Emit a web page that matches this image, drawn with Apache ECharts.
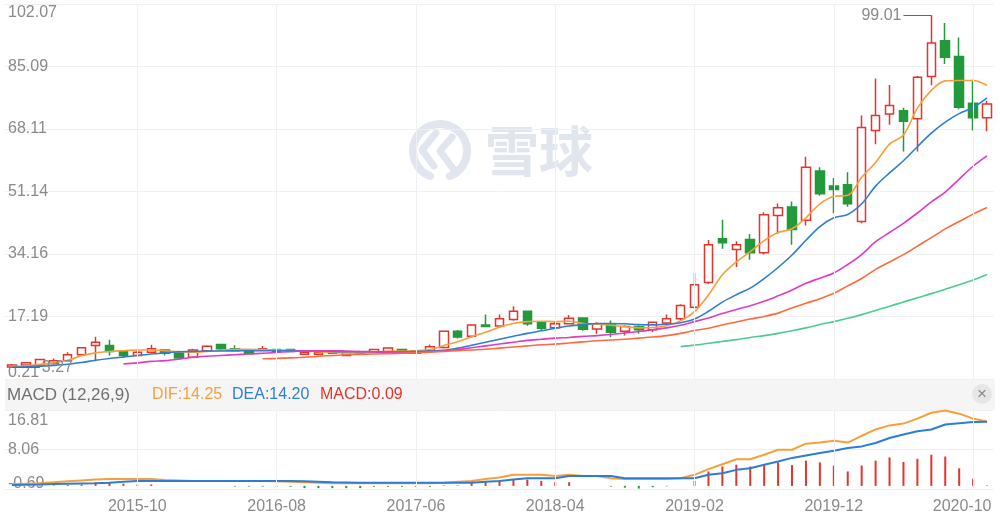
<!DOCTYPE html>
<html>
<head>
<meta charset="utf-8">
<script src="https://cdn.jsdelivr.net/npm/echarts@6/dist/echarts.min.js"></script>
<style>html,body{margin:0;padding:0;background:#fff;}#c{width:1000px;height:525px;}</style>
</head>
<body>
<div id="c"></div>
<script>
// ---- categories (monthly) ----
const months = [];
for (let y = 2015; y <= 2020; y++) for (let m = 1; m <= 12; m++) {
  if (y === 2020 && m > 11) break;
  months.push(y + '-' + (m < 10 ? '0' + m : '' + m));
}
// ---- candles: [open, close, low, high] ----
const candles = [
[3.5,4.0,3.27,4.3],[4.0,4.6,3.7,4.8],[4.0,5.5,3.8,5.7],[4.4,5.2,4.1,5.8],[5.2,6.8,5.0,7.5],
[6.8,8.7,6.6,8.9],[9.3,10.2,5.0,11.7],[9.3,7.7,6.6,10.9],[7.7,6.6,5.9,7.9],[6.6,7.5,6.3,8.4],
[7.5,8.4,7.2,9.5],[8.1,7.2,6.6,8.3],[7.3,5.9,5.7,7.9],[6.1,8.1,6.0,8.4],[7.9,9.1,7.7,9.4],
[9.6,8.4,8.1,9.8],[8.4,7.9,7.7,9.4],[7.8,7.1,6.9,8.0],[8.0,8.4,7.9,9.2],[8.2,7.7,7.5,8.3],
[8.2,7.7,7.5,8.3],[6.9,7.5,6.7,7.7],[6.9,7.5,6.8,7.7],[7.2,7.4,7.0,7.6],[6.6,7.4,6.5,7.6],
[7.2,7.6,7.0,7.9],[7.5,8.2,7.3,8.4],[7.7,8.6,7.5,8.8],[8.2,7.3,7.0,8.4],[7.2,7.9,7.0,8.1],
[7.9,9.0,7.7,9.6],[8.8,13.2,8.5,13.4],[13.2,11.6,11.2,13.5],[11.8,14.9,11.5,15.1],[14.9,14.5,14.3,17.7],
[14.6,16.6,14.3,17.7],[16.4,18.6,16.0,20.0],[18.6,15.2,14.7,18.8],[15.5,14.0,13.4,15.8],[14.1,15.2,13.9,15.9],
[15.2,16.7,15.0,17.6],[16.8,13.7,13.3,17.0],[13.8,15.2,12.5,15.6],[14.9,12.9,11.6,16.1],[13.2,14.5,12.0,14.8],
[14.5,13.6,12.5,14.8],[13.6,15.6,13.0,15.8],[15.4,16.6,15.0,17.7],[16.6,20.2,16.2,20.5],[19.7,25.8,19.3,29.1],
[26.4,36.7,26.0,38.0],[38.3,37.2,35.6,43.5],[35.4,36.7,30.6,37.6],[38.1,34.5,32.6,39.6],[34.5,44.8,34.0,45.5],
[44.6,46.7,39.6,47.9],[46.9,40.8,36.7,48.4],[43.3,57.7,41.9,60.6],[56.7,50.5,50.0,57.7],[52.6,51.7,45.2,54.8],
[53.0,47.8,47.0,56.4],[43.0,68.5,42.5,71.8],[67.7,71.8,64.0,81.8],[72.2,74.5,69.3,80.1],[73.1,70.2,62.0,73.9],
[70.9,82.2,62.0,82.5],[82.4,91.5,80.0,99.01],[92.1,87.6,85.8,96.9],[87.8,74.0,73.5,93.0],[75.1,71.2,67.7,81.5],
[71.2,74.9,67.5,75.8]
];
// ---- moving averages ----
const ma5 = [3.6,3.8,4.2,4.6,5.3,6.5,7.3,7.7,7.9,8.1,8.1,7.9,7.6,7.5,7.7,8.0,8.3,8.3,8.2,8.1,
8.0,7.8,7.6,7.4,7.3,7.3,7.4,7.7,7.8,7.9,8.2,9.3,10.3,11.7,12.9,14.3,15.3,15.8,15.9,15.8,
15.9,15.3,15.1,14.8,14.4,14.1,14.2,14.7,16.0,18.5,23.0,28.5,32.0,34.8,37.8,40.0,41.0,44.0,47.8,49.8,
50.1,55.0,59.0,64.0,66.5,73.8,78.6,81.2,81.3,81.3,80.0];
const ma10 = [3.4,3.5,3.7,3.9,4.2,4.7,5.3,5.8,6.2,6.6,7.0,7.3,7.6,7.7,7.8,7.8,7.9,7.9,7.9,7.9,
7.9,7.9,7.8,7.7,7.6,7.6,7.6,7.6,7.6,7.7,7.8,8.0,8.6,9.4,10.2,11.0,11.8,12.6,13.3,14.0,
14.6,15.0,15.3,15.3,15.2,15.0,14.9,15.1,15.5,16.5,18.6,21.1,23.1,24.9,27.5,30.5,33.9,37.9,41.6,44.0,
44.9,47.8,52.6,56.2,59.5,63.3,67.0,70.0,72.3,74.0,76.6];
const ma20 = [null,null,null,null,null,null,null,null,4.3,4.6,5.0,5.2,5.6,6.1,6.4,6.6,6.8,7.0,7.2,7.4,
7.7,7.8,7.9,7.9,7.8,7.7,7.6,7.5,7.5,7.5,7.6,7.8,8.2,8.7,9.2,9.7,10.2,10.7,11.0,11.3,
11.5,11.8,12.0,12.3,12.7,13.1,13.6,14.1,14.8,15.8,16.8,18.0,19.1,20.1,21.3,22.8,24.4,26.2,27.6,29.0,
31.3,34.0,37.5,40.0,42.5,45.3,48.3,51.0,54.5,58.0,60.8];
const ma30 = [null,null,null,null,null,null,null,null,null,null,null,null,null,null,null,null,null,null,5.7,5.8,
5.95,6.1,6.4,6.6,6.8,6.9,7.0,7.1,7.2,7.3,7.5,7.7,7.9,8.1,8.3,8.6,8.9,9.2,9.5,9.7,
10.0,10.3,10.6,10.8,11.0,11.3,11.6,12.0,12.6,13.4,14.0,14.9,15.7,16.5,17.2,18.1,19.5,20.8,22.0,23.5,
25.5,27.5,30.0,32.0,34.0,36.3,38.6,41.0,43.0,45.0,46.8];
const ma60 = [null,null,null,null,null,null,null,null,null,null,null,null,null,null,null,null,null,null,null,null,
null,null,null,null,null,null,null,null,null,null,null,null,null,null,null,null,null,null,null,null,
null,null,null,null,null,null,null,null,9.0,9.4,9.9,10.4,10.9,11.5,12.0,12.6,13.3,14.1,15.0,15.8,
16.7,17.7,18.8,20.0,21.1,22.3,23.4,24.6,25.8,27.1,28.6];
// ---- MACD (12,26,9) ----
const dif = [0.4,0.5,0.6,0.8,1.0,1.2,1.4,1.5,1.5,1.5,1.5,1.3,1.2,1.1,1.1,1.1,1.1,1.1,1.1,1.0,
0.9,0.8,0.7,0.6,0.6,0.6,0.6,0.6,0.6,0.6,0.6,0.7,0.9,1.1,1.5,1.85,2.45,2.45,2.45,2.2,
2.45,2.2,2.2,1.7,1.5,1.5,1.5,1.5,1.7,2.45,3.7,4.8,5.9,5.9,6.9,8.0,8.0,9.35,9.6,10.0,
9.6,11.1,12.5,13.4,13.8,14.9,16.2,16.7,16.0,14.9,14.25];
const dea = [0.2,0.25,0.3,0.4,0.5,0.55,0.6,0.7,0.9,1.1,1.1,1.1,1.1,1.1,1.1,1.1,1.1,1.1,1.1,1.1,
1.1,1.0,0.9,0.8,0.75,0.7,0.7,0.7,0.7,0.7,0.7,0.7,0.7,0.7,0.9,1.1,1.4,1.7,1.7,1.7,
2.2,2.2,2.2,2.2,1.7,1.7,1.7,1.7,1.7,1.7,2.45,2.8,3.55,3.9,4.7,5.4,6.2,6.75,7.3,7.8,
8.4,8.75,9.5,10.6,11.4,12.1,12.5,13.6,13.9,14.15,14.20];
const macd = [0,0,0.05,0.1,0.2,0.3,0.8,0.7,0.5,0.3,0.3,0,0,0,0,0,-0.15,-0.15,-0.15,-0.15,
-0.2,-0.5,-0.5,-0.5,-0.5,-0.5,-0.2,-0.2,-0.2,-0.2,-0.2,0.1,0.1,1.1,1.1,1.2,1.5,1.4,1.1,0.8,
0.8,0,0,-0.15,-0.4,-0.6,-0.3,-0.1,0,1.1,3.2,4.3,4.7,4.3,4.8,5.2,4.6,5.6,5.2,4.5,
3.2,4.5,5.6,6.3,5.3,6.0,6.9,6.5,3.9,1.6,0.09];
// ---- tick labels ----
const priceTicks = ['0.21','17.19','34.16','51.14','68.11','85.09','102.07'];
const macdTicks = ['-0.69','8.06','16.81'];
const gridMonths = ['2015-10','2016-08','2017-06','2018-04','2019-02','2019-12','2020-10'];

const PMIN = 0.21, PMAX = 102.07, PSTEP = (PMAX - PMIN) / 6;
const MMIN = -0.69, MMAX = 16.81, MSTEP = (MMAX - MMIN) / 2;

const FONT = 'Liberation Sans, Arial, sans-serif';
const RED = '#e4352d', GREEN = '#22993b';
const LABEL = '#8a8a8a';

// max / min markers
let hiIdx = 0, loIdx = 0;
candles.forEach((c, i) => { if (c[3] > candles[hiIdx][3]) hiIdx = i; if (c[2] < candles[loIdx][2]) loIdx = i; });
const hiVal = candles[hiIdx][3], loVal = candles[loIdx][2];

const chart = echarts.init(document.getElementById('c'), null, {renderer: 'canvas'});

function gridLines(xi, yi) {
  return {
    type: 'line', xAxisIndex: xi, yAxisIndex: yi, data: months.map(() => null), z: 1, silent: true,
    markLine: {
      silent: true, animation: false, symbol: ['none', 'none'],
      label: {show: false},
      lineStyle: {color: '#f0f0f0', width: 1, type: 'solid'},
      data: gridMonths.map(m => ({xAxis: m}))
    }
  };
}
function maLine(data, color) {
  return {type: 'line', xAxisIndex: 0, yAxisIndex: 0, data: data, smooth: 0.35, showSymbol: false,
    symbol: 'none', lineStyle: {color: color, width: 1.6}, itemStyle: {color: color}, z: 3};
}
function yLabel(ticks, min, step, lhMin, lhMax) {
  const base = {color: LABEL, fontSize: 16, fontFamily: FONT};
  return {
    inside: true, margin: 3, color: LABEL, fontSize: 16, fontFamily: FONT,
    verticalAlignMinLabel: 'bottom', verticalAlignMaxLabel: 'top',
    formatter: (v) => {
      const i = Math.round((v - min) / step);
      const t = ticks[i] || '';
      if (i === 0) return '{mn|' + t + '}';
      if (i === ticks.length - 1) return '{mx|' + t + '}';
      return t;
    },
    rich: {mn: Object.assign({lineHeight: lhMin}, base), mx: Object.assign({lineHeight: lhMax}, base)}
  };
}

const option = {
  animation: false,
  backgroundColor: '#fff',
  textStyle: {fontFamily: FONT},
  grid: [
    {left: 5, right: 6, top: 4, height: 375},
    {left: 5, right: 6, top: 410, height: 79}
  ],
  xAxis: [
    {type: 'category', gridIndex: 0, data: months, boundaryGap: true,
      axisLine: {show: false}, axisTick: {show: false}, axisLabel: {show: false}, splitLine: {show: false}},
    {type: 'category', gridIndex: 1, data: months, boundaryGap: true,
      axisLine: {show: false}, axisTick: {show: false}, splitLine: {show: false},
      axisLabel: {
        color: LABEL, fontSize: 16, fontFamily: FONT, margin: 10,
        interval: (idx) => idx % 10 === 9,
        formatter: (v, idx) => idx === months.length - 2 ? '{e|' + v + '}' : v,
        rich: {e: {color: LABEL, fontSize: 16, fontFamily: FONT, padding: [0, 22, 0, 0]}}
      }}
  ],
  yAxis: [
    {type: 'value', gridIndex: 0, min: PMIN, max: PMAX, interval: PSTEP, scale: true,
      axisLine: {show: false}, axisTick: {show: false},
      splitLine: {lineStyle: {color: '#f0f0f0', width: 1}},
      axisLabel: yLabel(priceTicks, PMIN, PSTEP, 13, 17)},
    {type: 'value', gridIndex: 1, min: MMIN, max: MMAX, interval: MSTEP, scale: true,
      axisLine: {show: false}, axisTick: {show: false},
      splitLine: {lineStyle: {color: '#f0f0f0', width: 1}},
      axisLabel: yLabel(macdTicks, MMIN, MSTEP, 10, 21)}
  ],
  graphic: [
    // watermark
    {type: 'group', z: -1, silent: true, children: [
      {type: 'arc', shape: {cx: 440, cy: 151, r: 27, startAngle: Math.PI * 0.62, endAngle: Math.PI * 2.38},
        style: {stroke: '#e0e5ee', lineWidth: 8, fill: null, lineCap: 'round'}},
      {type: 'polyline', shape: {points: [[436, 133], [422, 150], [434, 166]]},
        style: {stroke: '#e0e5ee', lineWidth: 7, fill: null, lineCap: 'round', lineJoin: 'round'}},
      {type: 'polyline', shape: {points: [[452, 137], [440, 151], [454, 170]]},
        style: {stroke: '#e0e5ee', lineWidth: 7, fill: null, lineCap: 'round', lineJoin: 'round'}},
      {type: 'text', x: 539, y: 151, style: {text: '雪球', fill: '#e0e5ee', fontSize: 54, fontWeight: 'bold',
        fontFamily: 'Noto Sans CJK SC', align: 'center', verticalAlign: 'middle'}}
    ]},
    // MACD legend bar
    {type: 'rect', z: 0, silent: true, shape: {x: 5, y: 380, width: 990, height: 30}, style: {fill: '#f5f5f5'}},
    {type: 'text', z: 5, x: 7, y: 395, style: {text: 'MACD (12,26,9)', fill: '#707070', fontSize: 17, fontFamily: FONT, verticalAlign: 'middle'}},
    {type: 'text', z: 5, x: 152, y: 395, style: {text: 'DIF:' + dif[dif.length - 1].toFixed(2), fill: '#f7a03c', fontSize: 16, fontFamily: FONT, verticalAlign: 'middle'}},
    {type: 'text', z: 5, x: 232, y: 395, style: {text: 'DEA:' + dea[dea.length - 1].toFixed(2), fill: '#2f7fd4', fontSize: 16, fontFamily: FONT, verticalAlign: 'middle'}},
    {type: 'text', z: 5, x: 320, y: 395, style: {text: 'MACD:' + macd[macd.length - 1].toFixed(2), fill: '#e4352d', fontSize: 16, fontFamily: FONT, verticalAlign: 'middle'}},
    {type: 'circle', z: 5, shape: {cx: 982, cy: 394, r: 10}, style: {fill: '#e6e6e6'}},
    {type: 'text', z: 6, x: 982, y: 394, style: {text: '×', fill: '#888', fontSize: 17, fontFamily: FONT, align: 'center', verticalAlign: 'middle'}}
  ],
  series: [
    gridLines(0, 0),
    gridLines(1, 1),
    {
      type: 'candlestick', xAxisIndex: 0, yAxisIndex: 0, data: candles, barWidth: 9, z: 2,
      itemStyle: {color: '#ffffff', color0: GREEN, borderColor: RED, borderColor0: GREEN, borderWidth: 1.5},
      markLine: {
        silent: true, animation: false, symbol: ['none', 'none'],
        lineStyle: {color: '#666', width: 1, type: 'solid'},
        label: {color: LABEL, fontSize: 16, fontFamily: FONT},
        data: [
          [{coord: [months[hiIdx - 2], hiVal], label: {position: 'start', distance: 2, formatter: hiVal.toFixed(2)}},
           {coord: [months[hiIdx], hiVal]}],
          [{coord: [months[loIdx], loVal], label: {position: 'end', distance: 2, formatter: loVal.toFixed(2)}},
           {coord: [months[loIdx + 2], loVal]}]
        ]
      }
    },
    maLine(ma5, '#f89f3a'),
    maLine(ma10, '#2b7dd6'),
    maLine(ma20, '#e03cc2'),
    maLine(ma30, '#ff6a3c'),
    maLine(ma60, '#4fcb8e'),
    {type: 'bar', xAxisIndex: 1, yAxisIndex: 1, barWidth: 2, z: 2,
      data: macd.map(v => ({value: v, itemStyle: {color: v >= 0 ? RED : GREEN}}))},
    {type: 'line', xAxisIndex: 1, yAxisIndex: 1, data: dif, showSymbol: false, symbol: 'none',
      lineStyle: {color: '#f89f3a', width: 2}, z: 3},
    {type: 'line', xAxisIndex: 1, yAxisIndex: 1, data: dea, showSymbol: false, symbol: 'none',
      lineStyle: {color: '#2b7dd6', width: 2}, z: 3}
  ]
};
chart.setOption(option);
</script>
</body>
</html>
